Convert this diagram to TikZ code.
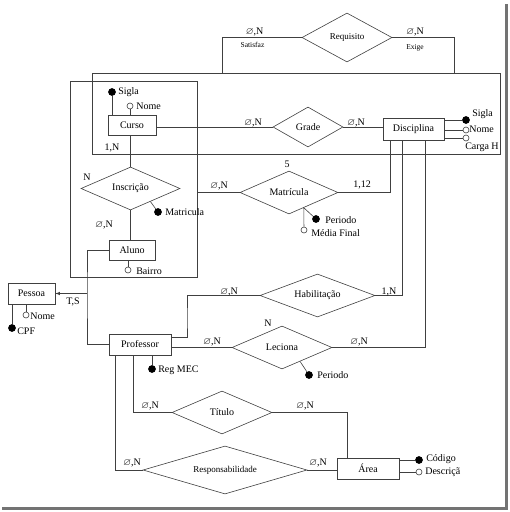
\documentclass[tikz,border=0pt]{standalone}
\usepackage{amssymb}
\usepackage{fontspec}
\setmainfont{Liberation Serif}
\usetikzlibrary{shapes,arrows,positioning,calc}
\tikzset{
  ernode/.style = {align=center, inner sep=0pt, text centered, font=\fontsize{10}{12}\selectfont},
  ent_box/.style = {ernode, rectangle, draw=black!75, fill=white},
  rel_dia/.style = {ernode, diamond, aspect=3.5, draw=black!75, fill=white},
  attr_f/.style = {circle, draw=black, fill=black, inner sep=0pt, minimum size=7pt},
  attr_o/.style = {circle, draw=black!75, fill=white, inner sep=0pt, minimum size=6pt},
  attr_t/.style = {ernode, anchor=west},
  card/.style = {ernode},
  role/.style = {ernode, font=\fontsize{7.5}{9}\selectfont}
}
\newcommand{\zn}{$\varnothing$,N}

\begin{document}
\begin{tikzpicture}[x=1pt,y=-1pt,line width=0.6pt,>=latex,draw=black!75]
  \useasboundingbox (0,0) rectangle (510,512);
  % frame shadow
  \draw[black!55,line width=3pt] (506.5,4) -- (506.5,509) (2,508.5) -- (508,508.5);
  % loops
  \draw (92,73) rectangle (500,154);
  \draw (70,81) rectangle (197,277);
  \coordinate (agg_e) at (197,192);
  \coordinate (req_l) at (222,73);
  \coordinate (req_r) at (454,73);
  \coordinate (isa) at (87,293.5);
  \coordinate (dm_x) at (390,0);
  \coordinate (dh_x) at (402,0);
  \coordinate (dl_x) at (425,0);
  \coordinate (pt_x) at (133,0);
  \coordinate (pr_x) at (115,0);
  \coordinate (ta_x) at (347,0);
  \coordinate (ph) at (187,320);

  % entities
  \node [ent_box, minimum width=48pt, minimum height=20pt] (curso) at (132,125) {Curso};
  \node [ent_box, minimum width=61pt, minimum height=22pt] (disc) at (413.5,129) {Disciplina};
  \node [ent_box, minimum width=46pt, minimum height=20pt] (aluno) at (132,250) {Aluno};
  \node [ent_box, minimum width=47pt, minimum height=21pt] (pessoa) at (31.5,293.5) {Pessoa};
  \node [ent_box, minimum width=62pt, minimum height=21pt] (prof) at (140,344.5) {Professor};
  \node [ent_box, minimum width=62pt, minimum height=21pt] (area) at (368,468.5) {Área};

  % relationships
  \node [rel_dia, minimum width=90pt, minimum height=49pt, font=\fontsize{9}{11}\selectfont] (req) at (347,37.5) {Requisito};
  \node [rel_dia, minimum width=70pt, minimum height=40pt] (grade) at (308,127) {Grade};
  \node [rel_dia, minimum width=99pt, minimum height=43pt] (insc) at (130.5,188.5) {Inscrição};
  \node [rel_dia, minimum width=98pt, minimum height=43pt] (matr) at (289,192.5) {Matrícula};
  \node [rel_dia, minimum width=115pt, minimum height=43pt] (habil) at (317.5,295.5) {Habilitação};
  \node [rel_dia, minimum width=100pt, minimum height=43pt] (lec) at (282,347.5) {Leciona};
  \node [rel_dia, minimum width=100pt, minimum height=43pt] (tit) at (222,412.5) {Título};
  \node [rel_dia, minimum width=164pt, minimum height=48pt, font=\fontsize{9}{11}\selectfont] (resp) at (225,470) {Responsabilidade};

  % connectors
  \draw (req.west) -| (req_l);
  \draw (req.east) -| (req_r);
  \draw (curso.east |- grade.west) -- (grade.west);
  \draw (grade.east) -- (grade.east -| disc.west);
  \draw (insc.north |- curso.south) -- (insc.north);
  \draw (insc.south) -- (insc.south |- aluno.north);
  \draw (matr.west) -- (matr.west -| agg_e);
  \draw (matr.east) -| (dm_x |- disc.south);
  \draw (habil.east) -| (dh_x |- disc.south);
  \draw (lec.east) -| (dl_x |- disc.south);
  \draw (aluno.west) -| (isa) |- (prof.west);
  \draw [->] (isa) -- (pessoa.east);
  \draw ($(prof.north east)+(0,4)$) -| (ph) |- (habil.west);
  \draw (lec.west -| prof.east) -- (lec.west);
  \draw (prof.south -| pt_x) |- (tit.west);
  \draw (prof.south -| pr_x) |- (resp.west);
  \draw (tit.east) -| (ta_x |- area.north);
  \draw (resp.east) -- (resp.east -| area.west);

  % attributes
  \node [attr_f] (cs_sigla) at (112,92) {};
  \node [attr_o] (cs_nome) at (130,106) {};
  \draw (cs_sigla) -- (cs_sigla |- curso.north);
  \draw (cs_nome) -- (cs_nome |- curso.north);
  \node [attr_t] (cs_sigla_t) at (118,92) {Sigla};
  \node [attr_t] (cs_nome_t) at (136,106) {Nome};

  \node [attr_f] (dc_sigla) at (466,120) {};
  \node [attr_o] (dc_nome) at (466,130) {};
  \node [attr_o] (dc_carga) at (466,138) {};
  \draw (dc_sigla) -- (dc_sigla -| disc.east);
  \draw (dc_nome) -- (dc_nome -| disc.east);
  \draw (dc_carga) -- (dc_carga -| disc.east);
  \node [attr_t] (dc_sigla_t) at (472,114) {Sigla};
  \node [attr_t] (dc_nome_t) at (469,129) {Nome};
  \node [attr_t] (dc_carga_t) at (465,147) {Carga H};

  \node [attr_f] (in_mat) at (158,212) {};
  \draw ($(insc.south)!0.4!(insc.east)$) -- (in_mat);
  \node [attr_t] (in_mat_t) at (165,212) {Matricula};

  \coordinate (ma) at ($(matr.south)!0.3!(matr.east)$);
  \node [attr_f] (ma_per) at (316,219) {};
  \node [attr_o] (ma_mf) at (304,230) {};
  \draw (ma) -- (ma_per);
  \draw (ma) -- (ma_mf);
  \node [attr_t] (ma_per_t) at (325,220) {Periodo};
  \node [attr_t] (ma_mf_t) at (311,233) {Média Final};

  \node [attr_o] (al_bairro) at (128,270) {};
  \draw (al_bairro) -- (al_bairro |- aluno.south);
  \node [attr_t] (al_bairro_t) at (136,271) {Bairro};

  \node [attr_f] (ps_cpf) at (12,328) {};
  \node [attr_o] (ps_nome) at (26,315) {};
  \draw (ps_cpf) -- (ps_cpf |- pessoa.south);
  \draw (ps_nome) -- (ps_nome |- pessoa.south);
  \node [attr_t] (ps_cpf_t) at (17,331) {CPF};
  \node [attr_t] (ps_nome_t) at (30,316) {Nome};

  \node [attr_f] (pf_reg) at (152,369) {};
  \draw (pf_reg) -- (pf_reg |- prof.south);
  \node [attr_t] (pf_reg_t) at (158,370) {Reg MEC};

  \node [attr_f] (lc_per) at (309,375) {};
  \draw ($(lec.south)!0.36!(lec.east)$) -- (lc_per);
  \node [attr_t] (lc_per_t) at (317,375) {Periodo};

  \node [attr_f] (ar_cod) at (419,460) {};
  \node [attr_o] (ar_desc) at (419,472) {};
  \draw (ar_cod) -- (ar_cod -| area.east);
  \draw (ar_desc) -- (ar_desc -| area.east);
  \node [attr_t] (ar_cod_t) at (426,459) {Código};
  \node [attr_t] (ar_desc_t) at (425,472) {Descriçã};

  % cardinalities and roles
  \node [card] (c_sat) at (254.5,32) {\zn};
  \node [role] (r_sat) at (252.5,45) {Satisfaz};
  \node [card] (c_exi) at (415,32) {\zn};
  \node [role] (r_exi) at (415,48) {Exige};
  \node [card] (c_gr1) at (253,123) {\zn};
  \node [card] (c_gr2) at (356,123) {\zn};
  \node [card] (c_in1) at (112,148) {1,N};
  \node [card] (c_in2) at (87,177) {N};
  \node [card] (c_in3) at (104,225) {\zn};
  \node [card] (c_ma1) at (219,186) {\zn};
  \node [card] (c_ma2) at (287,164) {5};
  \node [card] (c_ma3) at (362,185) {1,12};
  \node [card] (c_ha1) at (229,292) {\zn};
  \node [card] (c_ha2) at (389,292) {1,N};
  \node [card] (c_le1) at (212,342) {\zn};
  \node [card] (c_le2) at (359,342) {\zn};
  \node [card] (c_le3) at (268,323) {N};
  \node [card] (c_ts) at (73,302) {T,S};
  \node [card] (c_ti1) at (150,406) {\zn};
  \node [card] (c_ti2) at (305,406) {\zn};
  \node [card] (c_re1) at (132,463) {\zn};
  \node [card] (c_re2) at (318,463) {\zn};
\end{tikzpicture}
\end{document}
